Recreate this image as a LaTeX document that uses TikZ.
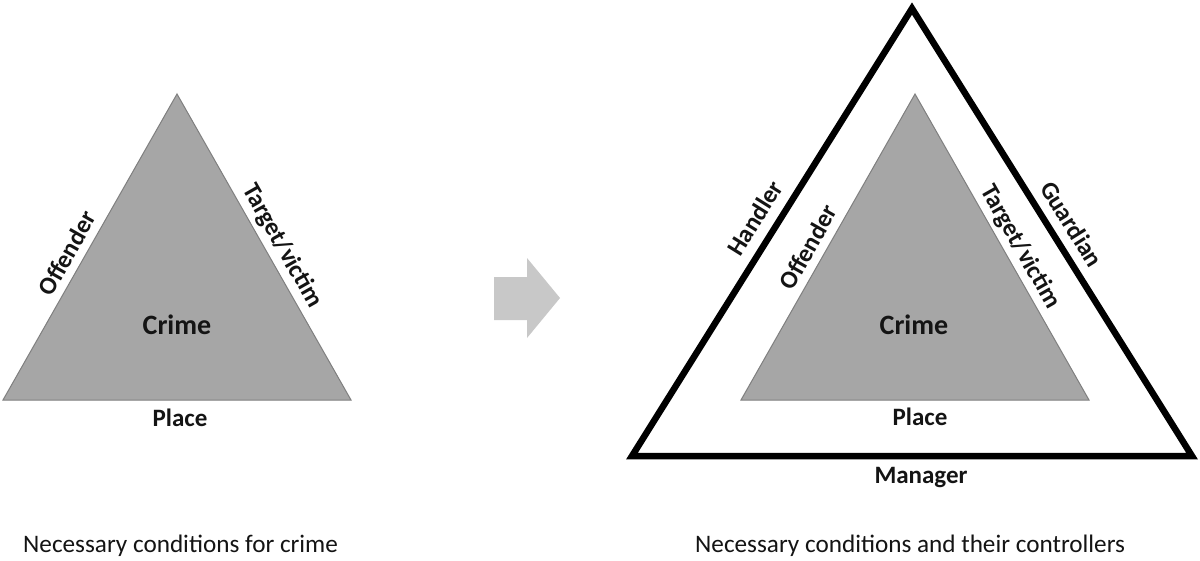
\documentclass[tikz,border=0pt]{standalone}
\usepackage{fontspec}
\setmainfont{Carlito}
\begin{document}
\begin{tikzpicture}[x=1pt,y=-1pt,
  gray tri/.style={fill=triGray,draw=triEdge,line width=1pt,line join=miter},
  outer tri/.style={draw=black,line width=6.5pt,line join=miter},
  lbl/.style={font=\bfseries\fontsize{25}{30}\selectfont,text=txt,inner sep=0pt},
  crimelbl/.style={font=\bfseries\fontsize{28}{33}\selectfont,text=txt,inner sep=0pt},
  captext/.style={font=\fontsize{25.2}{30}\selectfont,text=txt,inner sep=0pt}]
\definecolor{triGray}{HTML}{A6A6A6}
\definecolor{triEdge}{HTML}{7F7F7F}
\definecolor{arrGray}{HTML}{C8C8C8}
\definecolor{txt}{HTML}{141414}
\useasboundingbox (0,0) rectangle (1200,560);
\fill[white] (0,0) rectangle (1200,560);
% left triangle
\coordinate (LA) at (177,94);
\coordinate (LL) at (3,400);
\coordinate (LR) at (351,400);
\draw[gray tri] (LA) -- (LL) -- (LR) -- cycle;
\node[lbl,rotate=60.4] (loff) at (67,253) {Offender};
\node[lbl,rotate=-60.4] (ltar) at (282,246) {Target/victim};
\node[crimelbl] (lcrime) at (177,325) {Crime};
\node[lbl] (lplace) at (180,418) {Place};
% arrow
\fill[arrGray] (494,277) coordinate (A1) -- (527,277) -- (527,258) -- (560,298) -- (527,338) -- (527,320) -- (494,320) -- cycle;
% right outer triangle
\coordinate (OA) at (912,8.5);
\coordinate (OL) at (632,456);
\coordinate (OR) at (1192,456);
\draw[outer tri] (OA) -- (OL) -- (OR) -- cycle;
% right inner triangle
\coordinate (IA) at (915,94);
\coordinate (IL) at (741,400);
\coordinate (IR) at (1089,400);
\draw[gray tri] (IA) -- (IL) -- (IR) -- cycle;
\node[lbl,rotate=58] (rhand) at (755,218) {Handler};
\node[lbl,rotate=60.4] (roff) at (808,247) {Offender};
\node[lbl,rotate=-60.4] (rtar) at (1020,247) {Target/victim};
\node[lbl,rotate=-58] (rguard) at (1072,224) {Guardian};
\node[crimelbl] (rcrime) at (914,325) {Crime};
\node[lbl] (rplace) at (920,417) {Place};
\node[lbl] (rman) at (921,478) {Manager};
% captions
\node[captext,anchor=base west] (capl) at (23,552) {Necessary conditions for crime};
\node[captext,anchor=base west] (capr) at (695,552) {Necessary conditions and their controllers};
\end{tikzpicture}
\end{document}
